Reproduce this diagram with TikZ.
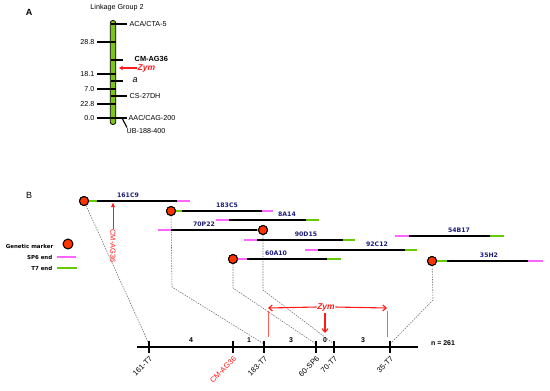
\documentclass[tikz,border=0pt]{standalone}
\usepackage{fontspec}
\setmainfont{Liberation Sans}
\newfontfamily\verd{DejaVu Sans}
\usetikzlibrary{arrows.meta}
\definecolor{limeg}{HTML}{7DC417}
\definecolor{tsevg}{HTML}{66CC00}
\definecolor{spsixp}{HTML}{FF66FF}
\definecolor{mred}{HTML}{FF3300}
\definecolor{navyb}{HTML}{1C1C78}
\definecolor{zred}{HTML}{FF1A1A}
\definecolor{conng}{HTML}{707070}
\begin{document}
\begin{tikzpicture}[x=1bp,y=-1bp,
  every node/.style={inner sep=0.5bp},
  ftxt/.style={font=\fontsize{7.2}{8}\selectfont},
  tickln/.style={line width=1.1bp},
  blk/.style={line width=2bp,black},
  spsix/.style={line width=2bp,spsixp},
  tsev/.style={line width=2bp,tsevg},
  marker/.style={circle,draw=black,line width=1bp,fill=mred,minimum size=9bp,inner sep=0},
  clab/.style={font=\verd\bfseries\fontsize{6.2}{7}\selectfont,text=navyb},
  leg/.style={font=\verd\bfseries\fontsize{5.5}{6}\selectfont,anchor=east},
  conn/.style={draw=conng,line width=0.6bp,dash pattern=on 1.4bp off 1.2bp},
  redarr/.style={draw=zred,line width=1.1bp,-{Straight Barb[length=3.5bp,width=6bp]}},
  zymtxt/.style={font=\bfseries\itshape\fontsize{8.5}{9}\selectfont,text=zred},
  axlab/.style={font=\fontsize{7.6}{8}\selectfont,rotate=45,anchor=east},
  intv/.style={font=\bfseries\fontsize{7}{8}\selectfont}
]
\useasboundingbox (0,0) rectangle (550,390);

% ---------------- Part A ----------------
\node[font=\bfseries\fontsize{9}{10}\selectfont] (labA) at (29,12) {A};
\node[ftxt] (lg) at (117,8) {Linkage Group 2};

\foreach \yy/\ll in {42/28.8, 74/18.1, 89/7.0, 104/22.8, 118/0.0}{
  \draw[tickln] (97,\yy) -- (113,\yy);
  \node[ftxt,anchor=east] at (95,\yy) {\ll};
}
\draw[tickln] (113,24) -- (127,24);
\node[ftxt,anchor=west] (aca) at (129,24) {ACA/CTA-5};
\draw[tickln] (113,60) -- (123,60);
\node[ftxt,anchor=west,font=\bfseries\fontsize{7.4}{8}\selectfont] (cmag) at (134,59) {CM-AG36};
\draw[tickln] (113,81) -- (123,81);
\node[anchor=west,font=\itshape\fontsize{9}{10}\selectfont] (aa) at (132,80) {a};
\draw[tickln] (113,96) -- (127,96);
\node[ftxt,anchor=west] (cs) at (129,96) {CS-27DH};
\draw[tickln] (113,118) -- (127,118);
\node[ftxt,anchor=west] (aac) at (128,118) {AAC/CAG-200};
\node[ftxt,anchor=west] (ub) at (126,131) {UB-188-400};
\draw[tickln] (122,118) -- (127,127.5);

\node[draw=black,line width=0.8bp,fill=limeg,rounded corners=2.5bp,minimum width=5.5bp,minimum height=104bp,inner sep=0] (chr) at (113,72.5) {};
\foreach \yy in {24,42,60,74,81,89,96,104}{
  \draw[line width=1.1bp] (110.5,\yy) -- (115.5,\yy);
}
\draw[line width=1.1bp] (110.5,118) -- (115.5,118);

\node[zymtxt,anchor=west] (zymA) at (137,68) {Zym};
\draw[zred,line width=1.2bp,-{Stealth[length=4bp,width=4.5bp]}] (zymA.west) -- (119,68);

% ---------------- Part B ----------------
\node[font=\fontsize{9}{10}\selectfont] (labB) at (29,195) {B};

% tick coordinates on the axis
\coordinate (t161) at (149,344);
\coordinate (tcm) at (233,344);
\coordinate (t183) at (264,344);
\coordinate (t60) at (316,344);
\coordinate (t70) at (334,344);
\coordinate (t35) at (390,344);

% markers (placed first to be used by connectors)
\node[marker] (m161) at (84,201) {};
\node[marker] (m183) at (171,211) {};
\node[marker] (m70) at (263,230) {};
\node[marker] (m60) at (233,259) {};
\node[marker] (m35) at (432,261) {};

% connectors
\coordinate (b183) at (172,287);
\coordinate (b60) at (233,288);
\coordinate (b70) at (263,290);
\coordinate (b35) at (433,300);
\draw[conn] (m161) -- (t161);
\draw[conn] (m183) -- (b183) -- (t183);
\draw[conn] (m60) -- (b60) -- (t60);
\draw[conn] (m70) -- (b70) -- (t70);
\draw[conn] (m35) -- (b35) -- (t35);

% clones
% 161C9
\draw[tsev] (88,201) -- (97,201); \draw[blk] (97,201) -- (177,201); \draw[spsix] (177,201) -- (190,201);
\node[clab] (c161) at (128,195) {161C9};
% 183C5
\draw[tsev] (176,211) -- (182,211); \draw[blk] (182,211) -- (262,211); \draw[spsix] (262,211) -- (273,211);
\node[clab] (c183) at (227,205) {183C5};
% 8A14
\draw[spsix] (216,220) -- (229,220); \draw[blk] (229,220) -- (306,220); \draw[tsev] (306,220) -- (319,220);
\node[clab] (c8) at (287,214.5) {8A14};
% 70P22
\draw[spsix] (158,230) -- (171,230); \draw[blk] (171,230) -- (257,230); \draw[tsev] (257,230) -- (260,230);
\node[clab] (c70) at (204,224.5) {70P22};
% 90D15
\draw[spsix] (244,240) -- (257,240); \draw[blk] (257,240) -- (343,240); \draw[tsev] (343,240) -- (355,240);
\node[clab] (c90) at (306,234.5) {90D15};
% 92C12
\draw[spsix] (305,250) -- (318,250); \draw[blk] (318,250) -- (405,250); \draw[tsev] (405,250) -- (417,250);
\node[clab] (c92) at (377,244) {92C12};
% 60A10
\draw[spsix] (237,259) -- (247,259); \draw[blk] (247,259) -- (327,259); \draw[tsev] (327,259) -- (341,259);
\node[clab] (c60) at (276,253.5) {60A10};
% 54B17
\draw[spsix] (395,236) -- (409,236); \draw[blk] (409,236) -- (490,236); \draw[tsev] (490,236) -- (504,236);
\node[clab] (c54) at (459,230) {54B17};
% 35H2
\draw[tsev] (436,261) -- (447,261); \draw[blk] (447,261) -- (528,261); \draw[spsix] (528,261) -- (543,261);
\node[clab] (c35) at (489,255.5) {35H2};

% redraw markers on top
\node[marker] at (m161) {};
\node[marker] at (m183) {};
\node[marker] at (m70) {};
\node[marker] at (m60) {};
\node[marker] at (m35) {};

% legend
\node[leg] (lgm) at (54,246) {Genetic marker};
\node[marker,minimum size=10bp] (lgc) at (68,244) {};
\node[leg] (lgs) at (53,257) {SP6 end};
\draw[spsix] (57,257) -- (76,257);
\node[leg] (lgt) at (53,268.5) {T7 end};
\draw[tsev] (57,268) -- (77,268);

% CM-AG36 arrow
\node[font=\fontsize{7.4}{8}\selectfont,text=zred,rotate=-90] (cmB) at (113,246) {CM-AG36};
\draw[draw=zred,line width=0.9bp,-{Triangle[length=4.5bp,width=3.5bp]}] (cmB.west) -- (113,202.5);

% axis
\draw[line width=1.2bp] (137,347) -- (418,347);
\foreach \xx in {149,233,264,316,334,390}{
  \draw[line width=1.2bp] (\xx,341) -- (\xx,353);
}
\node[axlab] (l161) at (151.5,357) {161-T7};
\node[axlab,text=zred] (lcm) at (235.5,357) {CM-AG36};
\node[axlab] (l183) at (266.5,357) {183-T7};
\node[axlab] (l60) at (318.5,357) {60-SP6};
\node[axlab] (l70) at (336.5,357) {70-T7};
\node[axlab] (l35) at (392.5,357) {35-T7};

\node[intv] at (191,340) {4};
\node[intv] at (249,340) {1};
\node[intv] at (291,340) {3};
\node[intv] at (325,340) {0};
\node[intv] at (363,340) {3};
\node[font=\bfseries\fontsize{7}{8}\selectfont] (nn) at (443,343) {n = 261};

% Zym interval
\node[zymtxt] (zymB) at (326,307) {Zym};
\draw[redarr] (zymB.west) -- (268,308);
\draw[redarr] (zymB.east) -- (387,308);
\draw[zred!70,line width=0.5bp] (268,311) -- (268,337);
\draw[zred!70,line width=0.5bp] (387,311) -- (387,337);
\draw[redarr] (325,313) -- (325,333);
\end{tikzpicture}
\end{document}
